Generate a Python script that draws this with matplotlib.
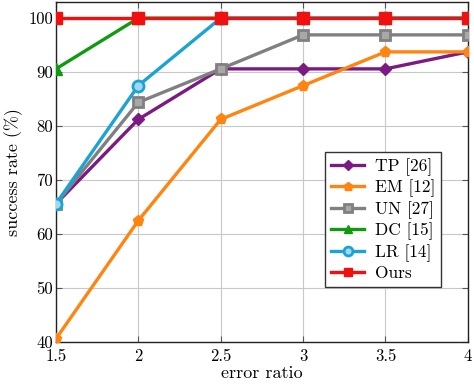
import matplotlib
matplotlib.use("Agg")
import matplotlib.pyplot as plt

x = [1.5, 2, 2.5, 3, 3.5, 4]
tp = [65.6, 81.25, 90.6, 90.6, 90.6, 93.75]
em = [40.6, 62.5, 81.25, 87.5, 93.75, 93.75]
un = [65.6, 84.4, 90.6, 96.9, 96.9, 96.9]
dc = [90.6, 100, 100, 100, 100, 100]
lr = [65.6, 87.5, 100, 100, 100, 100]
ours = [100, 100, 100, 100, 100, 100]
labels = ["TP [26]", "EM [12]", "UN [27]", "DC [15]", "LR [14]", "Ours"]
xticks = [1.5, 2, 2.5, 3, 3.5, 4]
xticklabels = ["1.5", "2", "2.5", "3", "3.5", "4"]
yticks = [40, 50, 60, 70, 80, 90, 100]

plt.rcParams['font.family'] = 'serif'
plt.rcParams['font.serif'] = ['cmr10', 'DejaVu Serif']
plt.rcParams['mathtext.fontset'] = 'cm'
plt.rcParams['axes.unicode_minus'] = False

fig = plt.figure(figsize=(4.74, 3.87), dpi=100)
ax = fig.add_axes([0.118, 0.116, 0.869, 0.879])

lw = 2.4
ax.plot(x, tp, color='#7B1A82', lw=lw, marker='D', ms=6, mfc='#7B1A82', mec='#7B1A82', label=labels[0], zorder=3)
ax.plot(x, em, color='#FF8410', lw=lw, marker='p', ms=8, mfc='#FF8410', mec='#FF8410', label=labels[1], zorder=3)
ax.plot(x, un, color='#808080', lw=lw, marker='s', ms=7, mfc='#A8A8A8', mec='#808080', mew=2, label=labels[2], zorder=3)
ax.plot(x, dc, color='#109A10', lw=lw, marker='^', ms=8, mfc='#109A10', mec='#109A10', label=labels[3], zorder=3)
ax.plot(x, lr, color='#1BA3D6', lw=lw, marker='o', ms=8, mfc='#9FD8EF', mec='#1BA3D6', mew=2, label=labels[4], zorder=3)
ax.plot(x, ours, color='#F01010', lw=lw, marker='s', ms=8, mfc='#F01010', mec='#F01010', label=labels[5], zorder=3)

ax.set_xlim(1.5, 4)
ax.set_ylim(40, 103)
ax.set_xticks(xticks)
ax.set_xticklabels(xticklabels)
ax.set_yticks(yticks)
ax.grid(True, color='#C8C8C8', lw=0.8)
ax.set_axisbelow(True)
ax.tick_params(direction='in', labelsize=12, length=4, top=True, right=True, color='#555555')
ax.tick_params(axis='x', pad=5)
ax.tick_params(axis='y', pad=2)
for s in ax.spines.values():
    s.set_linewidth(1.0)
    s.set_color('#222222')

ax.set_xlabel('error ratio', fontsize=13, labelpad=1)
ax.set_ylabel('success rate (%)', fontsize=13, labelpad=4)

leg = ax.legend(loc='lower right', bbox_to_anchor=(0.935, 0.162), fontsize=12.5,
                frameon=True, fancybox=False, edgecolor='#333333', framealpha=1,
                handlelength=1.9, handletextpad=0.6, borderpad=0.35, labelspacing=0.22,
                markerscale=0.8, borderaxespad=0)
leg.get_frame().set_linewidth(1.0)

fig.savefig('out.png', dpi=100)
